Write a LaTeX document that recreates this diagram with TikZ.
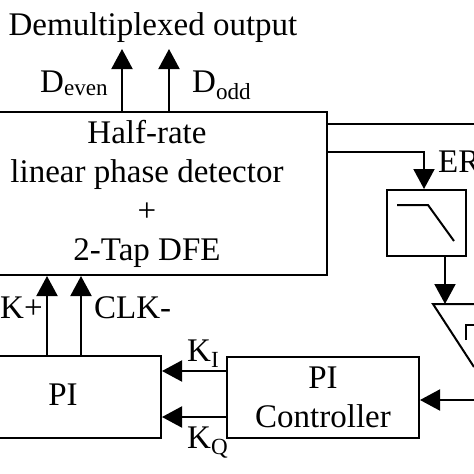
\documentclass[tikz,border=0pt]{standalone}
\usepackage{fontspec}
\setmainfont{Liberation Serif}
\usetikzlibrary{arrows.meta}
\tikzset{
  block/.style={draw, line width=2pt, inner sep=0pt, align=center, anchor=north west},
  sig/.style={line width=2pt, -{Triangle[length=20pt, width=21pt]}},
  wire/.style={line width=2pt},
  lbl/.style={inner sep=0pt, font=\fontsize{33}{39}\selectfont},
}
\begin{document}
\begin{tikzpicture}[x=1pt, y=-1pt]
  \clip (0,0) rectangle (474,474);

  \node[block, minimum width=360pt, minimum height=163pt, font=\fontsize{33}{39}\selectfont] (pd) at (-34,111) {Half-rate\\linear phase detector\\+\\2-Tap DFE};
  \node[block, minimum width=79pt, minimum height=66pt] (lpf) at (386,189) {};
  \node[block, minimum width=194pt, minimum height=82pt] (pi) at (-34,355) {};
  \node[block, minimum width=192pt, minimum height=81pt, font=\fontsize{33}{39}\selectfont] (ctrl) at (226,356) {PI\\Controller};
  \node[lbl] (pitext) at (63,395) {PI};

  % filter symbol
  \draw[wire] (397,205) -- (428,205) -- (454,241);

  % comparator, open to the right
  \draw[wire] (474,304) -- (433,304) -- (474,367);
  \draw[wire] (466,340) -- (466,325) -- (474,325);
  \coordinate (cmptop) at (445,304);
  \coordinate (cmpout) at (474,400);

  % outputs
  \coordinate (deven) at (122,49);
  \coordinate (dodd) at (169,49);
  \draw[sig] (deven |- pd.north) -- (deven);
  \draw[sig] (dodd |- pd.north) -- (dodd);
  \node[lbl] (title) at (153,28) {Demultiplexed output};
  \node[lbl, anchor=base west] (devenl) at (40,92) {D\textsubscript{even}};
  \node[lbl, anchor=base west] (doddl) at (192,92) {D\textsubscript{odd}};

  % clocks
  \coordinate (clkp) at (47,355);
  \coordinate (clkn) at (81,355);
  \draw[sig] (clkp) -- (clkp |- pd.south);
  \draw[sig] (clkn) -- (clkn |- pd.south);
  \node[lbl, anchor=base west] (clkpl) at (0,318) {K+};
  \node[lbl, anchor=base west] (clknl) at (94,318) {CLK-};

  % right side
  \coordinate (topr) at (474,124);
  \draw[wire] (pd.east |- topr) -- (topr);
  \draw[sig] (326,152) -| (lpf.north -| 424,0);
  \node[lbl, anchor=base west] (err) at (438,172) {ER};
  \draw[sig] (lpf.south -| cmptop) -- (cmptop);
  \draw[sig] (cmpout) -- (ctrl.east |- cmpout);

  % I and Q
  \coordinate (ki) at (226,371);
  \coordinate (kq) at (226,417);
  \draw[sig] (ki) -- (ki -| pi.east);
  \draw[sig] (kq) -- (kq -| pi.east);
  \node[lbl, anchor=base west] (kil) at (187,361) {K\textsubscript{I}};
  \node[lbl, anchor=base west] (kql) at (187,448) {K\textsubscript{Q}};
\end{tikzpicture}
\end{document}
